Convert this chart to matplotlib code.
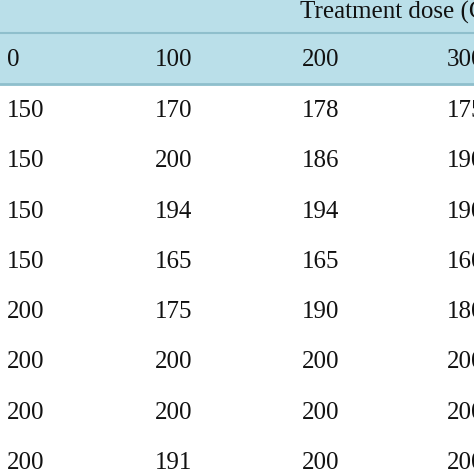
import matplotlib.pyplot as plt
from matplotlib.patches import Rectangle

doses = ['0', '100', '200', '300']
col0 = [150, 150, 150, 150, 200, 200, 200, 200]
col100 = [170, 200, 194, 165, 175, 200, 200, 191]
col200 = [178, 186, 194, 165, 190, 200, 200, 200]
col300 = [175, 190, 190, 160, 180, 200, 200, 200]
header = 'Treatment dose (Gy)'

plt.rcParams['font.family'] = 'serif'
plt.rcParams['font.serif'] = ['Liberation Serif', 'DejaVu Serif']
fig = plt.figure(figsize=(4.74, 4.74), dpi=100)
ax = fig.add_axes([0, 0, 1, 1])
ax.set_xlim(0, 474)
ax.set_ylim(474, 0)
ax.axis('off')

# header band
ax.add_patch(Rectangle((0, 0), 474, 84, color='#badfe9', zorder=0))
ax.plot([0, 474], [33, 33], color='#8fbfcc', lw=1.5)
ax.plot([0, 474], [84, 84], color='#8fbfcc', lw=2)

fs = 18
ax.text(300, 12, header, fontsize=fs, va='center', color='#111111', clip_on=True)

xs = [7, 155, 302, 447]
for x, d in zip(xs, doses):
    ax.text(x, 60, d, fontsize=fs, va='center', color='#111111', clip_on=True)

cols = [col0, col100, col200, col300]
for i in range(len(col0)):
    y = 111 + i * 50.3
    for x, c in zip(xs, cols):
        ax.text(x, y, str(c[i]), fontsize=fs, va='center', color='#111111', clip_on=True)

fig.savefig('out.png', dpi=100)
